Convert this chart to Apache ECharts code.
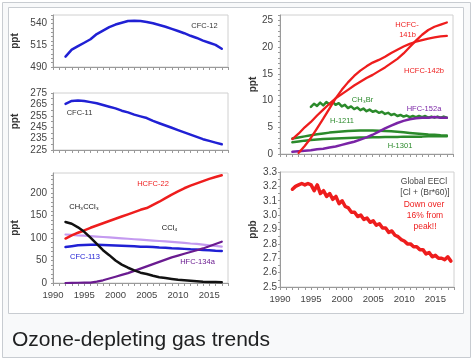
<!DOCTYPE html>
<html><head><meta charset="utf-8">
<script src="https://cdn.jsdelivr.net/npm/echarts@6/dist/echarts.min.js"></script>
<style>html,body{margin:0;padding:0;background:#fff}#c{width:474px;height:362px}</style>
</head><body><div id="c"></div><script>
// ---------- data ----------
const years = [1992,1993,1994,1995,1996,1997,1998,1999,2000,2001,2002,2003,2004,2005,2006,2007,2008,2009,2010,2011,2012,2013,2014,2015,2016,2017];
const years93 = [1993,1994,1995,1996,1997,1998,1999,2000,2001,2002,2003,2004,2005,2006,2007,2008,2009,2010,2011,2012,2013,2014,2015,2016,2017];
const halfYears92 = [1992,1992.5,1993,1993.5,1994,1994.5,1995,1995.5,1996,1996.5,1997,1997.5,1998,1998.5,1999,1999.5,2000,2000.5,2001,2001.5,2002,2002.5,2003,2003.5,2004,2004.5,2005,2005.5,2006,2006.5,2007,2007.5,2008,2008.5,2009,2009.5,2010,2010.5,2011,2011.5,2012,2012.5,2013,2013.5,2014,2014.5,2015,2015.5,2016,2016.5,2017,2017.5];
const halfYears95 = [1995,1995.5,1996,1996.5,1997,1997.5,1998,1998.5,1999,1999.5,2000,2000.5,2001,2001.5,2002,2002.5,2003,2003.5,2004,2004.5,2005,2005.5,2006,2006.5,2007,2007.5,2008,2008.5,2009,2009.5,2010,2010.5,2011,2011.5,2012,2012.5,2013,2013.5,2014,2014.5,2015,2015.5,2016,2016.5,2017];

const cfc12 = [502,510,514,518,522,528,532,536,539,541,543,543.5,543,542,540.5,538.5,536.5,534,531.5,529,526,523.5,520.5,518,515.5,511];
const cfc11 = [265.5,268,268.5,268,267,266,264.5,263,261.5,259.5,258,256,254.5,253,250.5,248.5,246.5,244.5,242.5,240.5,238.5,236.5,234.5,233,231.5,230];
const hcfc22 = [99,106,112,117,123,128,133,138,143,148,153,158,163,167,174,181,189,197,204,211,217,222,227,232,236,240];
const ch3ccl3 = [136,132,124,114,101,87,73,62,50,41,34,28,23,20,16,13,11,9,7,6,5,4,3,2.5,2,1.5];
const ccl4 = [108,107,106,105.5,104.5,103.5,102.5,101.5,100.5,99.5,98.5,97.5,96.5,95.5,94.5,93.5,92.5,91.5,90.5,89.5,88,87,85.5,84,82.5,81];
const cfc113 = [80,82,84,84.5,85,85,84.5,84,83.5,83,82.5,82,81,80.5,80,79,78.5,77.5,77,76,75,74.5,73.5,73,72,71.5];
const hfc134a = [0,0.3,0.6,0.8,1,3,6,10,14,18,22,27,32,37,42,47,52,57,61,65,69,73,77,82,87,92];

const hcfc141b = [2.8,3.8,5,6,7.2,8.3,9.4,10.4,11.2,12,12.8,13.5,14.2,14.8,15.5,16.2,17,17.8,18.8,20,21.2,22.3,23.2,23.8,24.2,24.6];
const hcfc142b = [0.2,1.5,3,4.8,6.6,8.5,10.4,12,13.4,14.6,15.6,16.4,17.1,17.6,18.2,18.9,19.5,20.1,20.6,21,21.3,21.6,21.8,22,22.1];
const ch3br = [8.8,9.4,9.0,9.6,9.1,9.7,9.3,9.8,9.2,9.5,8.9,9.2,8.6,8.9,8.4,8.7,8.2,8.5,8.0,8.3,7.9,8.1,7.7,7.9,7.5,7.7,7.3,7.5,7.1,7.3,7.0,7.2,6.9,7.1,6.9,7.1,6.9,7.1,6.8,7.0,6.8,7.0,6.8,7.0,6.8];
const hfc152a = [0.4,0.5,0.6,0.7,0.9,1.0,1.2,1.4,1.7,2.0,2.3,2.7,3.1,3.6,4.2,4.8,5.3,5.8,6.2,6.5,6.7,6.8,6.8,6.9,6.8,6.8];
const h1211 = [2.9,3.1,3.3,3.5,3.7,3.85,4.0,4.1,4.2,4.3,4.35,4.4,4.4,4.4,4.35,4.3,4.25,4.15,4.05,3.95,3.85,3.75,3.65,3.6,3.5,3.45];
const h1301 = [2.2,2.35,2.5,2.6,2.7,2.8,2.85,2.9,2.95,3.0,3.05,3.1,3.1,3.15,3.15,3.2,3.2,3.2,3.25,3.25,3.25,3.25,3.3,3.3,3.3,3.3];
const eecl = [3.18,3.20,3.21,3.22,3.21,3.22,3.21,3.17,3.21,3.15,3.17,3.13,3.15,3.11,3.13,3.08,3.10,3.06,3.05,3.02,3.02,2.99,3.00,2.97,2.98,2.95,2.96,2.93,2.94,2.91,2.91,2.88,2.89,2.86,2.85,2.83,2.82,2.80,2.80,2.78,2.78,2.76,2.76,2.73,2.74,2.71,2.72,2.70,2.70,2.69,2.71,2.68];

// tick labels
const xTicks = [1990,1995,2000,2005,2010,2015];
const cfc12Ticks = [490,515,540];
const cfc11Ticks = [225,235,245,255,265,275];
const mixTicks = [0,50,100,150,200];
const halonTicks = [0,5,10,15,20,25];
const eeclTicks = [2.5,2.6,2.7,2.8,2.9,3.0,3.1,3.2,3.3];

// ---------- helpers ----------
function steps(a, b, s){ const r=[]; for(let v=a; v<=b+1e-9; v+=s) r.push(+v.toFixed(3)); return r; }
const FONT = 'Liberation Sans, Arial, sans-serif';
const BLUE='#2020d4', RED='#ee1d1d', GREEN='#2b8a2b', PURPLE='#7a24a6', DPURPLE='#6a1b90', LAV='#c49af0';

const grids = [
  {left:53, top:15, width:175, height:52},
  {left:53, top:93, width:175, height:57},
  {left:53, top:173, width:175, height:110},
  {left:280, top:15, width:173, height:139},
  {left:280, top:172, width:174, height:115}
].map(g => Object.assign({show:true, borderColor:'#d0d0d0', borderWidth:1, backgroundColor:'transparent'}, g));

function xAx(i, labels){
  return {type:'value', gridIndex:i, min:1990, max:2018,
    axisLine:{show:true, lineStyle:{color:'#9a9a9a', width:1}},
    axisTick:{show:true, inside:false, length:3, customValues: steps(1990,2018,1), lineStyle:{color:'#9a9a9a'}},
    axisLabel:{show:labels, customValues:xTicks, color:'#444', fontSize:9.5, fontFamily:FONT, margin:7, formatter: v => String(v)},
    splitLine:{show:false}};
}
function yAx(i, min, max, labels, tickStep, name, gap, margin, fmt){
  return {type:'value', gridIndex:i, min:min, max:max,
    name:name, nameLocation:'middle', nameGap:gap,
    nameTextStyle:{color:'#333', fontSize:10, fontWeight:'bold', fontFamily:FONT},
    axisLine:{show:true, lineStyle:{color:'#9a9a9a', width:1}},
    axisTick:{show:true, inside:false, length:2, customValues: steps(min, max, tickStep), lineStyle:{color:'#9a9a9a'}},
    axisLabel:{customValues:labels, color:'#444', fontSize:10, fontFamily:FONT, margin:margin, formatter: fmt || (v => String(v))},
    splitLine:{show:false}};
}
function line(i, xs, ys, color, width, z){
  return {type:'line', xAxisIndex:i, yAxisIndex:i, data: xs.map((x,k)=>[x, ys[k]]),
    showSymbol:false, symbol:'none', silent:true, animation:false, z: z||2,
    lineStyle:{color:color, width:width, join:'round', cap:'round'}, itemStyle:{color:color}};
}
function txt(x, y, s, color, size){
  return {type:'text', x:x, y:y, silent:true, z:50,
    style:{text:s, fill:color, fontSize:size||7.5, fontFamily:FONT, align:'center', verticalAlign:'middle'}};
}

const option = {
  animation:false,
  backgroundColor:'#ffffff',
  grid: grids,
  xAxis: [xAx(0,false), xAx(1,false), xAx(2,true), xAx(3,false), xAx(4,true)],
  yAxis: [
    yAx(0, 490, 550, cfc12Ticks, 5, 'ppt', 33, 6),
    yAx(1, 225, 275, cfc11Ticks, 5, 'ppt', 33, 6),
    yAx(2, 0, 245, mixTicks, 10, 'ppt', 33, 6),
    yAx(3, 0, 26, halonTicks, 1, 'ppt', 22, 7),
    yAx(4, 2.5, 3.3, eeclTicks, 0.05, 'ppb', 22, 3, v => v.toFixed(1))
  ],
  series: [
    line(0, years, cfc12, BLUE, 2.5),
    line(1, years, cfc11, BLUE, 2.5),
    line(2, years, ccl4, LAV, 2.2),
    line(2, years, cfc113, BLUE, 2.5),
    line(2, years, hfc134a, DPURPLE, 2.2),
    line(2, years, hcfc22, RED, 2.5),
    line(2, years, ch3ccl3, '#111111', 2.5),
    line(3, years, h1211, GREEN, 2.5),
    line(3, years, h1301, GREEN, 2.5),
    line(3, halfYears95, ch3br, GREEN, 2.5),
    line(3, years, hfc152a, PURPLE, 2.5),
    line(3, years, hcfc141b, RED, 2.3),
    line(3, years93, hcfc142b, RED, 2.3),
    line(4, halfYears92, eecl, RED, 3.5)
  ],
  graphic: [
    {type:'rect', z:-10, silent:true, shape:{x:2.5, y:2.5, width:468, height:355}, style:{fill:'#f8f9fa', stroke:'#c8ccd1', lineWidth:1}},
    {type:'rect', z:-9, silent:true, shape:{x:8.5, y:7.5, width:455, height:306}, style:{fill:'#ffffff', stroke:'#c8ccd1', lineWidth:1}},
    {type:'text', x:12, y:340, silent:true, z:50, style:{text:'Ozone-depleting gas trends', fill:'#202122', fontSize:21, fontFamily:FONT, align:'left', verticalAlign:'middle'}},
    txt(204.5, 26, 'CFC-12', '#333'),
    txt(79.5, 113, 'CFC-11', '#333'),
    txt(153, 184, 'HCFC-22', RED),
    txt(84, 207, 'CH₃CCl₃', '#111'),
    txt(169.5, 228, 'CCl₄', '#111'),
    txt(85, 257, 'CFC-113', BLUE),
    txt(197.5, 262, 'HFC-134a', DPURPLE),
    txt(407, 25, 'HCFC-', RED),
    txt(407.5, 35, '141b', RED),
    txt(424, 71, 'HCFC-142b', RED),
    txt(362.5, 100, 'CH₃Br', GREEN),
    txt(424, 109, 'HFC-152a', PURPLE),
    txt(342, 121, 'H-1211', GREEN),
    txt(400, 146, 'H-1301', GREEN),
    txt(424, 182, 'Global EECl', '#444', 8.5),
    txt(425, 193, '[Cl + (Br*60)]', '#444', 8.5),
    txt(424, 205, 'Down over', RED, 8.5),
    txt(425, 216, '16% from', RED, 8.5),
    txt(425, 227, 'peak!!', RED, 8.5)
  ]
};
const chart = echarts.init(document.getElementById('c'), null, {renderer:'canvas'});
chart.setOption(option);
</script></body></html>
